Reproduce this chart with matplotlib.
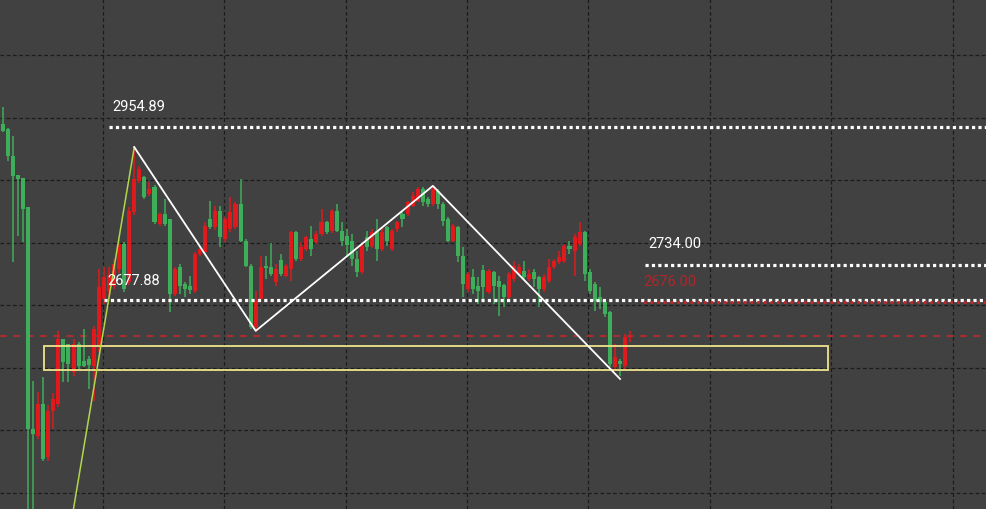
import numpy as np
import matplotlib
matplotlib.use("Agg")
import matplotlib.pyplot as plt
from matplotlib.patches import Rectangle

plt.rcParams['font.family'] = ['Roboto', 'DejaVu Sans']

# candle data (one entry per bar)
opens = [2960, 2952, 2909, 2878, 2874, 2827, 2472, 2461, 2512, 2427,
         2501, 2512, 2616, 2608, 2563, 2608, 2581, 2584, 2573, 2605,
         2680, 2693, 2701, 2728, 2768, 2707, 2819, 2869, 2875, 2848,
         2859, 2800, 2816, 2808, 2688, 2731, 2704, 2701, 2693, 2752,
         2755, 2808, 2795, 2821, 2776, 2792, 2795, 2832, 2773, 2733,
         2635, 2680, 2733, 2731, 2707, 2742, 2717, 2728, 2787, 2744,
         2760, 2776, 2771, 2784, 2803, 2789, 2821, 2789, 2781, 2773,
         2744, 2723, 2779, 2765, 2789, 2760, 2795, 2760, 2792, 2816,
         2816, 2829, 2837, 2856, 2840, 2832, 2853, 2832, 2808, 2773,
         2795, 2749, 2696, 2715, 2701, 2726, 2691, 2723, 2709, 2702,
         2683, 2712, 2720, 2725, 2712, 2723, 2715, 2696, 2709, 2731,
         2739, 2741, 2765, 2757, 2768, 2787, 2723, 2704, 2683, 2675,
         2659, 2571, 2581, 2573, 2619]
highs = [2987, 2954, 2941, 2878, 2874, 2827, 2549, 2531, 2555, 2510,
         2530, 2629, 2616, 2608, 2616, 2611, 2632, 2589, 2637, 2728,
         2731, 2731, 2744, 2776, 2771, 2827, 2923, 2893, 2877, 2867,
         2862, 2818, 2840, 2808, 2731, 2736, 2707, 2717, 2755, 2765,
         2803, 2837, 2829, 2829, 2811, 2843, 2835, 2872, 2776, 2736,
         2693, 2749, 2749, 2770, 2736, 2752, 2736, 2789, 2789, 2771,
         2781, 2797, 2789, 2824, 2805, 2824, 2832, 2803, 2792, 2784,
         2757, 2771, 2789, 2792, 2808, 2795, 2797, 2792, 2805, 2819,
         2837, 2851, 2859, 2859, 2843, 2861, 2856, 2835, 2811, 2800,
         2797, 2763, 2723, 2728, 2715, 2734, 2728, 2725, 2717, 2704,
         2723, 2741, 2736, 2741, 2728, 2728, 2717, 2720, 2744, 2744,
         2757, 2768, 2773, 2784, 2803, 2789, 2728, 2707, 2699, 2680,
         2661, 2608, 2584, 2624, 2629]
lows = [2947, 2901, 2739, 2781, 2771, 2328, 2328, 2456, 2421, 2421,
        2472, 2507, 2547, 2547, 2557, 2568, 2571, 2536, 2517, 2595,
        2672, 2683, 2696, 2722, 2691, 2702, 2814, 2866, 2840, 2845,
        2800, 2797, 2797, 2659, 2685, 2688, 2683, 2688, 2690, 2749,
        2752, 2792, 2790, 2763, 2771, 2787, 2792, 2771, 2731, 2632,
        2627, 2675, 2712, 2717, 2701, 2717, 2715, 2709, 2741, 2741,
        2757, 2749, 2768, 2781, 2784, 2786, 2787, 2765, 2749, 2733,
        2715, 2720, 2757, 2762, 2741, 2757, 2765, 2757, 2787, 2795,
        2813, 2827, 2835, 2829, 2827, 2829, 2824, 2797, 2771, 2771,
        2739, 2683, 2691, 2688, 2672, 2677, 2688, 2672, 2653, 2667,
        2680, 2707, 2717, 2712, 2709, 2699, 2667, 2691, 2706, 2728,
        2736, 2738, 2752, 2717, 2765, 2709, 2688, 2661, 2664, 2651,
        2571, 2568, 2557, 2568, 2611]
closes = [2949, 2909, 2877, 2872, 2824, 2472, 2464, 2512, 2424, 2501,
          2520, 2616, 2579, 2576, 2608, 2573, 2573, 2574, 2632, 2699,
          2715, 2718, 2736, 2768, 2696, 2821, 2872, 2888, 2843, 2856,
          2803, 2816, 2800, 2688, 2728, 2701, 2696, 2694, 2752, 2760,
          2797, 2795, 2821, 2779, 2808, 2819, 2832, 2773, 2733, 2635,
          2677, 2731, 2730, 2720, 2728, 2720, 2733, 2787, 2744, 2763,
          2779, 2760, 2784, 2803, 2787, 2821, 2789, 2773, 2766, 2744,
          2723, 2765, 2763, 2787, 2760, 2787, 2773, 2789, 2803, 2808,
          2835, 2845, 2856, 2835, 2832, 2856, 2832, 2805, 2773, 2797,
          2749, 2704, 2720, 2696, 2693, 2699, 2725, 2701, 2699, 2683,
          2720, 2733, 2731, 2715, 2720, 2712, 2696, 2715, 2731, 2741,
          2747, 2765, 2760, 2779, 2787, 2720, 2693, 2677, 2675, 2656,
          2576, 2587, 2576, 2619, 2621]

# horizontal levels with labels
level_top = 2954.89
level_mid = 2677.88
level_right = 2734.00
level_red = 2676.00
last_price = 2621
zone_low, zone_high = 2566, 2605

# zigzag pattern (bar index, price)
zig_x = [26, 50, 85, 122]
zig_y = [2923, 2629, 2861, 2552]
trend_x = [13.8, 26]
trend_y = [2335, 2923]

bg = '#414141'
up_col = '#e0191c'
down_col = '#3fae5a'

fig = plt.figure(figsize=(9.86, 5.10), dpi=100, facecolor=bg)
ax = fig.add_axes([0, 0, 1, 1])
ax.set_facecolor(bg)

# grid
ax.set_xticks(np.arange(-4.25, 200, 24))
ax.set_yticks(np.arange(2370, 3100, 100))
ax.grid(True, color='#1c1c1c', linestyle=(0, (3, 2)), linewidth=0.9)
ax.tick_params(length=0, labelbottom=False, labelleft=False)
for s in ax.spines.values():
    s.set_visible(False)
ax.set_axisbelow(True)

o = np.array(opens, float)
h = np.array(highs, float)
l = np.array(lows, float)
c = np.array(closes, float)
idx = np.arange(len(o))
cols = np.where(c >= o, up_col, down_col)

ax.vlines(idx, l, h, colors=cols, linewidth=1.1, zorder=3)
body_lo = np.minimum(o, c)
body_h = np.maximum(np.abs(c - o), 1.8)
ax.bar(idx, body_h, bottom=body_lo, width=0.8, color=cols, linewidth=0, zorder=4)

# red dashed last price line
ax.axhline(last_price, color='#c22a2c', linestyle=(0, (4, 4)), linewidth=1.2, zorder=2)

# support zone
ax.add_patch(Rectangle((8.2, zone_low), 163.1 - 8.2, zone_high - zone_low,
                       fill=False, edgecolor='#eee38a', linewidth=1.3, zorder=5))

# dotted levels
dots = (0, (1, 1))
ax.plot([21, 194.3], [level_top, level_top], color='white', lw=2.3, ls=dots, zorder=6)
ax.plot([20, 194.3], [level_mid, level_mid], color='white', lw=2.3, ls=dots, zorder=6)
ax.plot([127, 194.3], [level_right, level_right], color='white', lw=2.3, ls=dots, zorder=6)
ax.plot([126, 194.3], [level_red, level_red], color='#c0282c', lw=2.0,
        ls=(1.2, (1, 1.4)), zorder=7)

# pattern lines
ax.plot(trend_x, trend_y, color='#b2d64a', lw=1.1, zorder=6)
ax.plot(zig_x, zig_y, color='white', lw=1.3, zorder=6)

txt = dict(fontsize=10.5, va='center', ha='left', zorder=8)
ax.text(21.6, 2989, f'{level_top:.2f}', color='white', **txt)
ax.text(20.6, 2710, f'{level_mid:.2f}', color='white', **txt)
ax.text(127.5, 2770, f'{level_right:.2f}', color='white', **txt)
ax.text(126.5, 2709, f'{level_red:.2f}', color='#b0262a', **txt)

ax.set_xlim(-0.53, 194.3)
ax.set_ylim(2344, 3160)

fig.savefig('out.png', dpi=100, facecolor=bg)
